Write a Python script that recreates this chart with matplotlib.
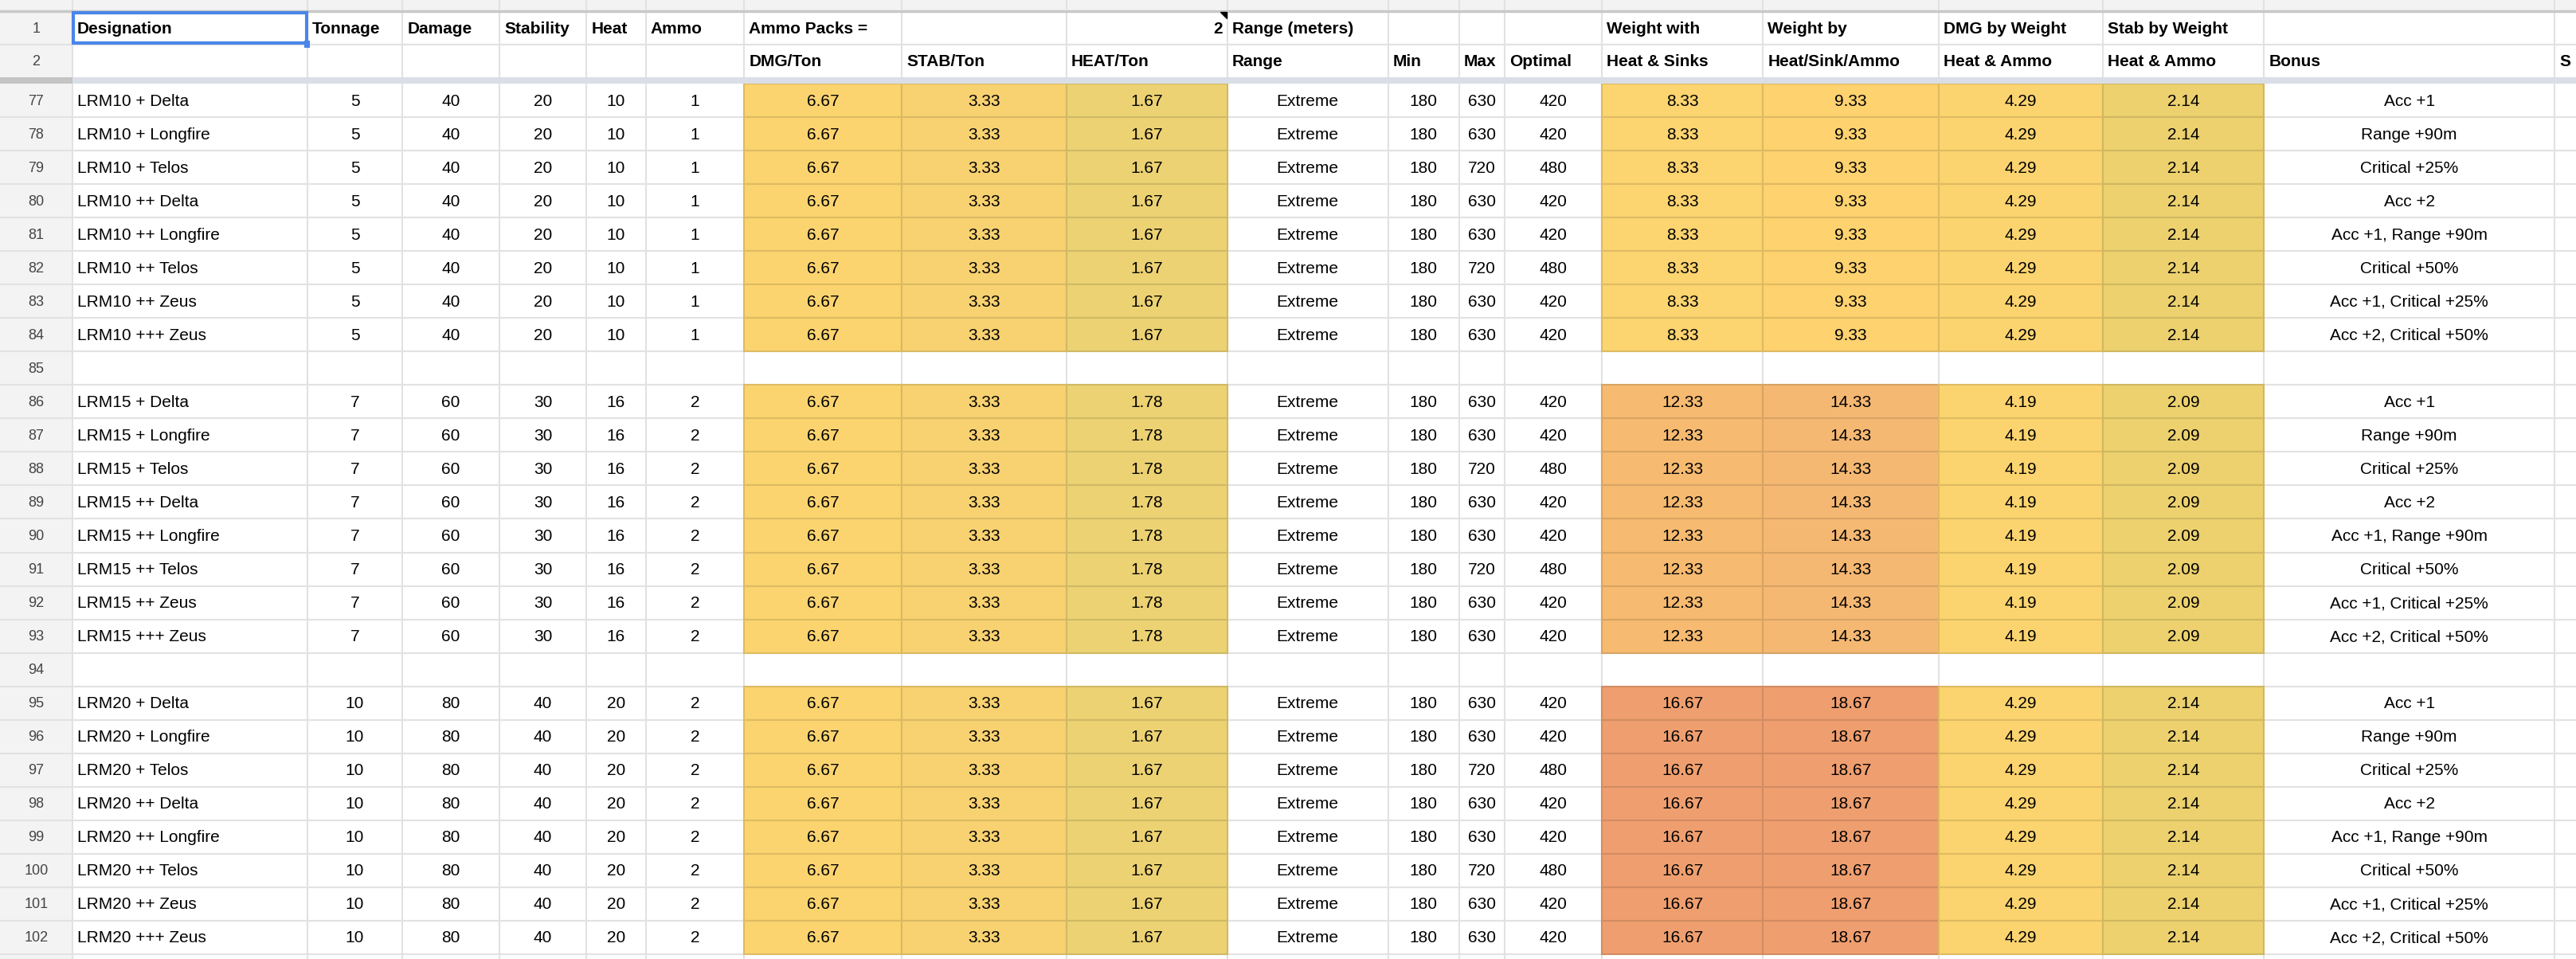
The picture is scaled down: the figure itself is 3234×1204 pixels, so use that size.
import matplotlib
matplotlib.use("Agg")
import matplotlib.pyplot as plt
from matplotlib.patches import Rectangle, Polygon
import matplotlib.colors as mc

# ---------------- data ----------------
groups = ["LRM10", "LRM15", "LRM20"]
variants = ["+ Delta", "+ Longfire", "+ Telos", "++ Delta", "++ Longfire", "++ Telos", "++ Zeus", "+++ Zeus"]
tonnage = [5, 7, 10]
damage = [40, 60, 80]
stability = [20, 30, 40]
heat = [10, 16, 20]
ammo = [1, 2, 2]
dmg_ton = [6.67, 6.67, 6.67]
stab_ton = [3.33, 3.33, 3.33]
heat_ton = [1.67, 1.78, 1.67]
range_cls = ["Extreme"] * 8
range_min = [180] * 8
range_max = [630, 630, 720, 630, 630, 720, 630, 630]
range_opt = [420, 420, 480, 420, 420, 480, 420, 420]
weight_sinks = [8.33, 12.33, 16.67]
weight_ammo = [9.33, 14.33, 18.67]
dmg_by_weight = [4.29, 4.19, 4.29]
stab_by_weight = [2.14, 2.09, 2.14]
bonus = ["Acc +1", "Range +90m", "Critical +25%", "Acc +2", "Acc +1, Range +90m",
         "Critical +50%", "Acc +1, Critical +25%", "Acc +2, Critical +50%"]
first_row_number = 77
ammo_packs = 2

header1 = ["Designation", "Tonnage", "Damage", "Stability", "Heat", "Ammo", "Ammo Packs =", "", "",
           "Range (meters)", "", "", "", "Weight with", "Weight by", "DMG by Weight", "Stab by Weight", "", ""]
header2 = ["", "", "", "", "", "", "DMG/Ton", "STAB/Ton", "HEAT/Ton", "Range", "Min", "Max", "Optimal",
           "Heat & Sinks", "Heat/Sink/Ammo", "Heat & Ammo", "Heat & Ammo", "Bonus", "S"]

# ---------------- layout (display units) ----------------
W, H = 1568, 584
col_edges = [0, 44, 187, 245, 304, 357, 393, 453, 549, 649, 747, 845, 888, 916, 975, 1073, 1180, 1280, 1378, 1555, 1600]
top_strip = 7
row_h1 = 20
frozen_top = 47
frozen_bot = 51
body_top = 51
row_h = (581 - 51) / 26

fig = plt.figure(figsize=(32.34, 12.04), dpi=100)
ax = fig.add_axes([0, 0, 1, 1])
ax.set_xlim(0, W)
ax.set_ylim(H, 0)
ax.axis("off")
FONT = "Liberation Sans"
FS = 15
GRID = "#e2e2e2"

def rect(x0, y0, x1, y1, fc, ec="none", lw=0, z=1):
    ax.add_patch(Rectangle((x0, y0), x1 - x0, y1 - y0, facecolor=fc, edgecolor=ec, linewidth=lw, zorder=z))

def darker(c, f=0.88):
    r, g, b = mc.to_rgb(c)
    return (r * f, g * f, b * f)

# background
rect(0, 0, W, H, "white", z=0)
# top column letter strip
rect(0, 0, W, top_strip, "#f3f3f3", z=1)
# row number column
rect(0, 0, col_edges[1], H, "#f3f3f3", z=1)

# build rows
rows = []
for gi, g in enumerate(groups):
    for vi, v in enumerate(variants):
        rows.append((gi, vi))
    if gi < len(groups) - 1:
        rows.append(None)

fills_dmg = "#fcd46f"
fills_stab = "#f8d271"
fills_heat = "#ecd273"
weight_sink_fill = ["#fcd470", "#f6ba70", "#ef9f6f"]
weight_ammo_fill = ["#fdd26f", "#f5b872", "#ef9e6f"]
dmgw_fill = "#fcd46f"
stabw_fill = "#ecd16e"

def cx(ci):
    return (col_edges[ci] + col_edges[ci + 1]) / 2

# grid lines vertical
for x in col_edges[1:]:
    ax.plot([x, x], [0, H], color=GRID, lw=1.5, zorder=2)
ax.plot([0, W], [top_strip, top_strip], color="#c8c8c8", lw=2.5, zorder=3)
ax.plot([0, W], [top_strip + row_h1, top_strip + row_h1], color=GRID, lw=1.5, zorder=2)
# frozen divider
rect(0, frozen_top, W, frozen_bot, "#dadee6", z=4)
rect(0, frozen_top, col_edges[1], frozen_bot, "#c4c4c4", z=4)

# header texts
for ci in range(19):
    c = ci + 1
    y1 = top_strip + row_h1 / 2
    y2 = top_strip + row_h1 * 1.5
    if header1[ci]:
        ax.text(col_edges[c] + 3, y1 + 0.5, header1[ci], fontsize=FS, fontweight="bold", family=FONT,
                ha="left", va="center", zorder=6)
    if header2[ci]:
        ax.text(col_edges[c] + 3, y2 + 0.5, header2[ci], fontsize=FS, fontweight="bold", family=FONT,
                ha="left", va="center", zorder=6, clip_on=True)
ax.text(col_edges[10] - 3, top_strip + row_h1 / 2 + 0.5, str(ammo_packs), fontsize=FS, fontweight="bold",
        family=FONT, ha="right", va="center", zorder=6)
ax.add_patch(Polygon([[col_edges[10] - 4, top_strip + 0.3], [col_edges[10] - 0.3, top_strip + 0.3],
                      [col_edges[10] - 0.3, top_strip + 4]], closed=True, color="black", zorder=7))
for i, yc in enumerate([top_strip + row_h1 / 2, top_strip + row_h1 * 1.5]):
    ax.text(cx(0), yc + 0.5, str(i + 1), fontsize=FS - 2, family=FONT, color="#444444",
            ha="center", va="center", zorder=6)
# selection box
ax.add_patch(Rectangle((col_edges[1] + 0.5, top_strip + 0.8), col_edges[2] - col_edges[1] - 1, row_h1 - 1.6,
                       fill=False, edgecolor="#4a86e8", lw=3, zorder=8))
rect(col_edges[2] - 2, top_strip + row_h1 - 2.5, col_edges[2] + 1.5, top_strip + row_h1 + 2, "#4a86e8", z=9)

# body
for ri, r in enumerate(rows):
    y0 = body_top + ri * row_h
    y1 = y0 + row_h
    yc = (y0 + y1) / 2 + 0.5
    ax.plot([0, W], [y1, y1], color=GRID, lw=1.5, zorder=2)
    ax.text(cx(0), yc, str(first_row_number + ri), fontsize=FS - 2, family=FONT, color="#444444",
            ha="center", va="center", zorder=6)
    if r is None:
        continue
    gi, vi = r
    fills = {7: fills_dmg, 8: fills_stab, 9: fills_heat, 14: weight_sink_fill[gi], 15: weight_ammo_fill[gi],
             16: dmgw_fill, 17: stabw_fill}
    for c, fc in fills.items():
        rect(col_edges[c], y0, col_edges[c + 1], y1, fc, ec=darker(fc), lw=1.5, z=3)
    vals = [f"{groups[gi]} {variants[vi]}", tonnage[gi], damage[gi], stability[gi], heat[gi], ammo[gi],
            f"{dmg_ton[gi]:.2f}", f"{stab_ton[gi]:.2f}", f"{heat_ton[gi]:.2f}", range_cls[vi], range_min[vi],
            range_max[vi], range_opt[vi], f"{weight_sinks[gi]:.2f}", f"{weight_ammo[gi]:.2f}",
            f"{dmg_by_weight[gi]:.2f}", f"{stab_by_weight[gi]:.2f}", bonus[vi]]
    for k, v in enumerate(vals):
        c = k + 1
        if k == 0:
            ax.text(col_edges[c] + 3, yc, v, fontsize=FS, family=FONT, ha="left", va="center", zorder=6)
        else:
            ax.text(cx(c), yc, str(v), fontsize=FS, family=FONT, ha="center", va="center", zorder=6)

fig.savefig("out.png", dpi=100)
